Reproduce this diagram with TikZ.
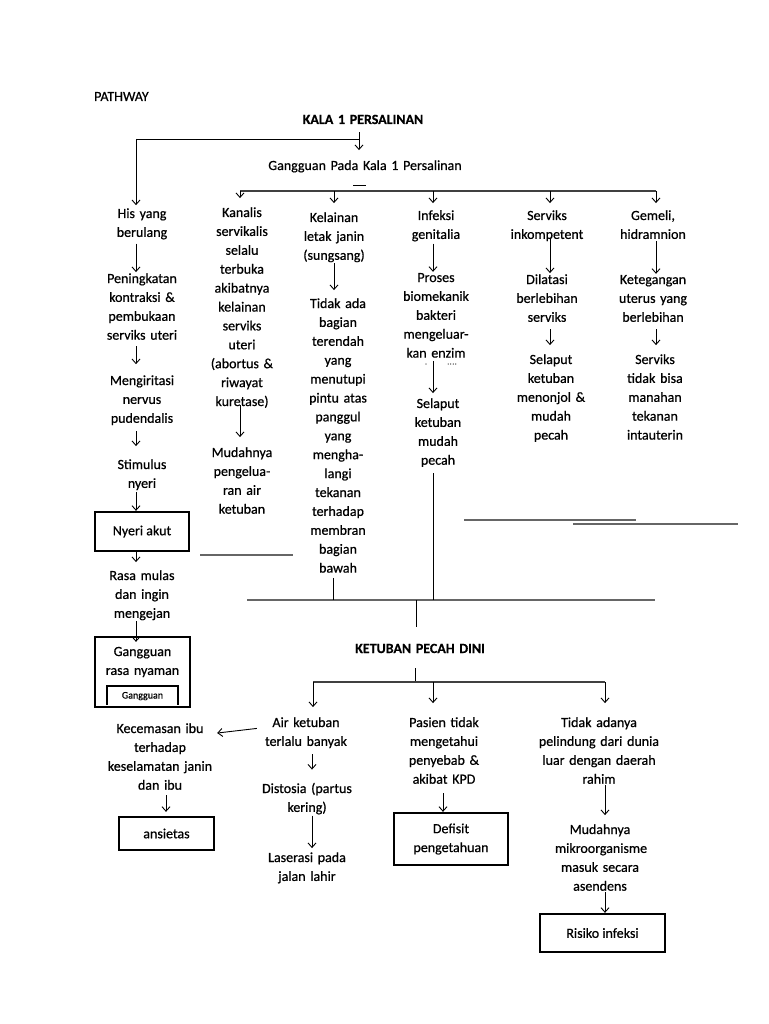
\documentclass[tikz,border=0pt]{standalone}
\usepackage{fontspec}
\setmainfont{Carlito}[FakeBold=0.6]
\usetikzlibrary{arrows.meta,calc}
\begin{document}
\begin{tikzpicture}[x=1pt,y=-1pt,
  every node/.style={inner sep=1pt},
  txt/.style={text width=#1, align=center, anchor=base, font=\fontsize{14}{18.9}\selectfont},
  txt/.default=90pt,
  arr/.style={draw=black, line width=0.9pt, -{Straight Barb[length=4.5pt,width=8pt]}},
  ln/.style={draw=black, line width=0.9pt},
  bar/.style={draw=black!60, line width=1.6pt},
  box/.style={draw=black, line width=2.3pt, align=center, font=\fontsize{14}{18.9}\selectfont}]
\fill[white] (0,0) rectangle (768,1024);
\useasboundingbox (0,0) rectangle (768,1024);

% column arrow x positions
\coordinate (x1) at (136,0);
\coordinate (x2) at (240,0);
\coordinate (x3) at (334,0);
\coordinate (x4) at (433,0);
\coordinate (x5) at (550,0);
\coordinate (x6) at (656,0);

% titles
\node[anchor=base west, font=\fontsize{14}{17}\selectfont] (pathway) at (93,101) {PATHWAY};
\node[txt=200pt, font=\bfseries\fontsize{14}{17}\selectfont] (kala) at (363,124) {KALA 1 PERSALINAN};
\node[txt=250pt] (gang) at (365,170) {Gangguan Pada Kala 1 Persalinan};
\draw[ln] (353,185) -- (366,185);

\coordinate (j1) at (359,139);
\draw[arr, shorten <=7pt, shorten >=9pt] (kala.south -| j1) -- (gang.north -| j1);
\draw[ln] (j1) -- (j1 -| x1);

% column 1
\node[txt] (his) at (142,218) {His yang\\berulang};
\node[txt] (pen) at (142,283) {Peningkatan\\kontraksi \&\\pembukaan\\serviks uteri};
\node[txt] (meng) at (142,385) {Mengiritasi\\nervus\\pudendalis};
\node[txt] (stim) at (142,469) {Stimulus\\nyeri};
\node[box, minimum width=94pt, minimum height=39pt] (nyeri) at (142,531.5) {Nyeri akut};
\node[txt] (rasa) at (142,580) {Rasa mulas\\dan ingin\\mengejan};
\node[draw, line width=2.3pt, minimum width=95pt, minimum height=70pt] (ggbox) at (142.5,672) {};
\node[txt] (ggtxt) at (142.5,656) {Gangguan\\rasa nyaman};
\node[font=\fontsize{10}{12}\selectfont, anchor=base] (ggsmall) at (142.5,698.5) {Gangguan};
\draw[line width=1.8pt] (107,705) |- (178,686) -- (178,705);

\draw[arr, shorten >=2pt] (j1 -| x1) -- (his.north -| x1);
\draw[arr, shorten <=3pt] (his.south -| x1) -- (pen.north -| x1);
\draw[arr, shorten <=5pt, shorten >=10pt] (pen.south -| x1) -- (meng.north -| x1);
\draw[arr, shorten <=5pt, shorten >=12pt] (meng.south -| x1) -- (stim.north -| x1);
\draw[arr, shorten <=1pt] (stim.south -| x1) -- (nyeri.north -| x1);
\draw[arr, shorten >=7pt] (nyeri.south -| x1) -- (rasa.north -| x1);
\draw[arr] (rasa.south -| x1) -- ([yshift=-6pt]ggbox.north -| x1);

% top bar
\coordinate (b1) at (240,191);
\coordinate (b6) at (656,191);
\draw[draw=black!75, line width=1.2pt] (b1) -- (b6);

% column 2
\node[txt] (kanalis) at (242,217) {Kanalis\\servikalis\\selalu\\terbuka\\akibatnya\\kelainan\\serviks\\uteri\\(abortus \&\\riwayat\\kuretase)};
\node[txt] (mudah) at (242,457) {Mudahnya\\pengelua-\\ran air\\ketuban};
\draw[arr, shorten >=8pt] (b1) -- (kanalis.north -| x2);
\draw[arr, shorten <=-4pt, shorten >=9pt] (kanalis.south -| x2) -- (mudah.north -| x2);
\coordinate (l1a) at (200,555);
\coordinate (l1b) at (293,555);
\draw[bar, line width=1.3pt] (l1a) -- (l1b);

% column 3
\node[txt] (kelainan) at (334,222) {Kelainan\\letak janin\\(sungsang)};
\node[txt] (tidak) at (338,308) {Tidak ada\\bagian\\terendah\\yang\\menutupi\\pintu atas\\panggul\\yang\\mengha-\\langi\\tekanan\\terhadap\\membran\\bagian\\bawah};
\draw[arr, shorten >=8pt] (b1 -| x3) -- (kelainan.north -| x3);
\draw[arr, shorten >=7pt] (kelainan.south -| x3) -- (tidak.north -| x3);

% column 4
\node[txt] (infeksi) at (436,220) {Infeksi\\genitalia};
\node[txt] (proses) at (436,282) {Proses\\biomekanik\\bakteri\\mengeluar-\\kan enzim};
\node[font=\fontsize{6}{6}\selectfont] (dotA) at (426,364) {.};
\node[font=\fontsize{6}{6}\selectfont] (dotB) at (452,364) {.\,.\,.\,.};
\node[txt] (selaput1) at (438,408) {Selaput\\ketuban\\mudah\\pecah};
\draw[arr, shorten >=6pt] (b1 -| x4) -- (infeksi.north -| x4);
\draw[arr, shorten <=1pt] (infeksi.south -| x4) -- (proses.north -| x4);
\draw[arr, shorten <=2pt, shorten >=4pt] (proses.south -| x4) -- (selaput1.north -| x4);

% column 5
\node[txt] (serviks) at (547,220) {Serviks\\inkompetent};
\node[txt] (dilatasi) at (547,284) {Dilatasi\\berlebihan\\serviks};
\node[txt] (selaput2) at (551,364) {Selaput\\ketuban\\menonjol \&\\mudah\\pecah};
\draw[arr, shorten >=6pt] (b1 -| x5) -- (serviks.north -| x5);
\draw[arr, shorten <=-4pt] (serviks.south -| x5) -- (dilatasi.north -| x5);
\draw[arr, shorten <=6pt, shorten >=8pt] (dilatasi.south -| x5) -- (selaput2.north -| x5);

% column 6
\node[txt] (gemeli) at (653,220) {Gemeli,\\hidramnion};
\node[txt] (keteg) at (653,284) {Ketegangan\\uterus yang\\berlebihan};
\node[txt] (servtb) at (655,364) {Serviks\\tidak bisa\\manahan\\tekanan\\intauterin};
\draw[arr, shorten >=6pt] (b6) -- (gemeli.north -| x6);
\draw[arr, shorten <=1pt] (gemeli.south -| x6) -- (keteg.north -| x6);
\draw[arr, shorten <=6pt, shorten >=8pt] (keteg.south -| x6) -- (servtb.north -| x6);

% right lines
\coordinate (r1a) at (464,520);
\coordinate (r1b) at (636,520);
\coordinate (r2a) at (573,524);
\coordinate (r2b) at (738,524);
\draw[bar, line width=1.3pt] (r1a) -- (r1b);
\draw[bar, line width=1.3pt] (r2a) -- (r2b);

% middle bar
\coordinate (m1) at (247,600);
\coordinate (m2) at (655,600);
\draw[bar] (m1) -- (m2);
\coordinate (x3b) at (333,0);
\draw[ln, shorten <=4pt] (tidak.south -| x3b) -- (m1 -| x3b);
\draw[ln, shorten <=5pt] (selaput1.south -| x4) -- (m1 -| x4);

% bottom section
\node[txt=200pt, font=\bfseries\fontsize{14}{17}\selectfont] (kpd) at (420,653) {KETUBAN PECAH DINI};
\coordinate (xk) at (416,0);
\coordinate (xk2) at (415,0);
\draw[ln, shorten >=16pt] (m1 -| xk) -- (kpd.north -| xk);
\coordinate (n1) at (313,682);
\coordinate (n3) at (605,682);
\draw[ln, shorten <=14pt] (kpd.south -| xk2) -- (n1 -| xk2);
\draw[draw=black!75, line width=1.2pt] (n1) -- (n3);

\node[txt] (air) at (306,727) {Air ketuban\\terlalu banyak};
\node[txt=112pt] (kec) at (160,733) {Kecemasan ibu\\terhadap\\keselamatan janin\\dan ibu};
\node[box, minimum width=95pt, minimum height=33pt] (ansietas) at (166.5,833.5) {ansietas};
\node[txt] (distosia) at (307,793) {Distosia (partus\\kering)};
\node[txt] (laserasi) at (307,862) {Laserasi pada\\jalan lahir};
\node[txt] (pasien) at (444,727) {Pasien tidak\\mengetahui\\penyebab \&\\akibat KPD};
\node[box, minimum width=114pt, minimum height=52pt] (defisit) at (451,839) {Defisit\\pengetahuan};
\node[txt=130pt] (tidak2) at (599,727) {Tidak adanya\\pelindung dari dunia\\luar dengan daerah\\rahim};
\node[txt] (mudah2) at (600,834) {Mudahnya\\mikroorganisme\\masuk secara\\asendens};
\node[box, minimum width=125pt, minimum height=38pt] (risiko) at (602.5,933) {Risiko infeksi};

\coordinate (xa1) at (312,0);
\coordinate (xp) at (443,0);
\coordinate (xk3) at (166,0);
\draw[arr, shorten >=9pt] (n1) -- (air.north -| n1);
\draw[arr, shorten >=13pt] (n1 -| x4) -- (pasien.north -| x4);
\draw[arr, shorten >=13pt] (n3) -- (tidak2.north -| n3);
\draw[arr] ([xshift=-3pt,yshift=4.3pt]air.west) -- ([yshift=23.5pt]kec.east);
\draw[arr, shorten <=5pt, shorten >=12pt] (air.south -| xa1) -- (distosia.north -| xa1);
\draw[arr, shorten >=3pt] (distosia.south -| xa1) -- (laserasi.north -| xa1);
\draw[arr, shorten <=4pt, shorten >=4pt] (kec.south -| xk3) -- (ansietas.north -| xk3);
\draw[arr, shorten <=8pt] (pasien.south -| xp) -- (defisit.north -| xp);
\draw[arr, shorten >=8pt] (tidak2.south -| n3) -- (mudah2.north -| n3);
\draw[arr] (mudah2.south -| n3) -- (risiko.north -| n3);
\end{tikzpicture}
\end{document}
